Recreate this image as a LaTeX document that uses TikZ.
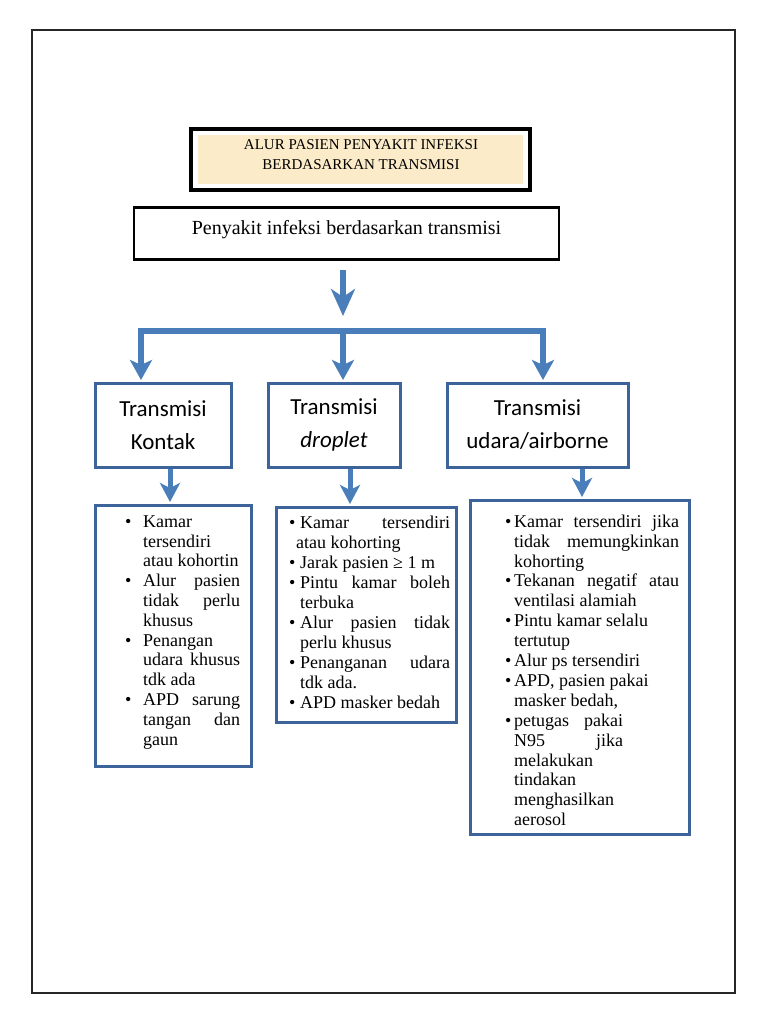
\documentclass[tikz,border=0pt]{standalone}
\usepackage{fontspec}
\setmainfont{Liberation Serif}
\newfontfamily\carl{Carlito}
\usetikzlibrary{arrows.meta}
\definecolor{arrblue}{RGB}{74,126,187}
\definecolor{boxblue}{RGB}{60,100,155}
\definecolor{beige}{RGB}{252,235,200}
\newcommand{\bul}[1]{\makebox[#1][l]{\textbullet}}
\newcommand{\J}[2]{\makebox[#1][s]{#2}}
\newcommand{\ind}[1]{\hspace*{#1}}
\begin{document}
\begin{tikzpicture}[x=1pt,y=-1pt,
  tbox/.style={draw=boxblue,line width=3pt,inner sep=0pt},
  lvl/.style={tbox,font=\carl\fontsize{23}{33}\selectfont,align=center},
  detail/.style={anchor=north west,inner sep=0pt,align=left,font=\fontsize{18}{19.8}\selectfont},
  arr/.style={draw=arrblue,line width=5.5pt,-{Stealth[length=20pt,width=22pt,inset=5pt]}},
  arrs/.style={draw=arrblue,line width=5pt,-{Stealth[length=19pt,width=20pt,inset=5pt]}},
]
\useasboundingbox (0,0) rectangle (768,1024);
\fill[white] (0,0) rectangle (768,1024);
\draw[line width=1.8pt,black!85] (32,30) rectangle (735,993);
% title
\fill[beige] (198,135) rectangle (523,184);
\node[draw,line width=4pt,minimum width=339pt,minimum height=61pt,inner sep=0pt] (title) at (360.5,159.5) {};
\node[align=center,font=\fontsize{15}{20}\selectfont,inner sep=0pt] (titletxt) at (361,155) {ALUR PASIEN PENYAKIT INFEKSI\\BERDASARKAN TRANSMISI};
% source box
\node[draw,line width=2.5pt,minimum width=425pt,minimum height=52pt,inner sep=0pt,
      text height=10pt,text depth=7pt,font=\fontsize{20}{24}\selectfont] (src) at (346.5,233.5) {Penyakit infeksi berdasarkan transmisi};
% arrow down
\coordinate (a0) at (343,270);
\coordinate (a1) at (343,316);
\draw[arr,line width=6pt,-{Stealth[length=27pt,width=24pt,inset=8pt]}] (a0) -- (a1);
% level 2 boxes
\node[lvl,minimum width=136pt,minimum height=84pt] (k) at (163,425) {Transmisi\\Kontak};
\node[lvl,minimum width=132pt,minimum height=84pt] (d) at (334,425) {Transmisi\\\textit{droplet}};
\node[lvl,minimum width=181pt,minimum height=84pt] (u) at (537.5,425) {Transmisi\\udara/airborne};
% bar
\coordinate (bl) at (141,331);
\coordinate (bm) at (343,331);
\coordinate (br) at (543,331);
\coordinate (blk) at (bl |- k.north);
\coordinate (bmd) at (bm |- d.north);
\coordinate (bru) at (br |- u.north);
\draw[arr,line join=miter,{Stealth[length=20pt,width=22pt,inset=5pt]}-{Stealth[length=20pt,width=22pt,inset=5pt]}]
  ([yshift=1.5pt]blk) -- (bl) -- (br) -- ([yshift=1.5pt]bru);
\draw[arr] (bm) -- ([yshift=1.5pt]bmd);
% detail boxes
\node[tbox,minimum width=156pt,minimum height=261pt] (b1) at (173,635.5) {};
\node[tbox,minimum width=180pt,minimum height=215pt] (b2) at (366,614.5) {};
\node[tbox,minimum width=219pt,minimum height=334pt] (b3) at (579.5,667) {};
% lower arrows
\coordinate (k1) at ([xshift=7pt]k.south);
\coordinate (d1) at ([xshift=16pt]d.south);
\coordinate (u1) at ([xshift=44.5pt]u.south);
\coordinate (k2) at (k1 |- b1.north);
\coordinate (d2) at (d1 |- b2.north);
\coordinate (u2) at (u1 |- b3.north);
\draw[arrs] (k1) -- ([yshift=1.5pt]k2);
\draw[arrs] (d1) -- ([yshift=1.5pt]d2);
\draw[arrs] (u1) -- ([yshift=1.5pt]u2);
% detail texts
\node[detail] (b1t) at (125,514) {\rule{0pt}{13pt}\bul{18pt}Kamar\\
\ind{18pt}tersendiri\\
\ind{18pt}atau kohortin\\
\bul{18pt}\J{97pt}{Alur pasien}\\
\ind{18pt}\J{97pt}{tidak perlu}\\
\ind{18pt}khusus\\
\bul{18pt}Penangan\\
\ind{18pt}\J{97pt}{udara khusus}\\
\ind{18pt}tdk ada\\
\bul{18pt}\J{97pt}{APD sarung}\\
\ind{18pt}\J{97pt}{tangan dan}\\
\ind{18pt}gaun};
\node[detail,font=\fontsize{18}{20}\selectfont] (b2t) at (289,515) {\rule{0pt}{13pt}\bul{11pt}\J{150pt}{Kamar tersendiri}\\
\ind{7pt}atau kohorting\\
\bul{11pt}Jarak pasien ≥ 1 m\\
\bul{11pt}\J{150pt}{Pintu kamar boleh}\\
\ind{11pt}terbuka\\
\bul{11pt}\J{150pt}{Alur pasien tidak}\\
\ind{11pt}perlu khusus\\
\bul{11pt}\J{150pt}{Penanganan udara}\\
\ind{11pt}tdk ada.\\
\bul{11pt}APD masker bedah};
\node[detail,font=\fontsize{18}{19.9}\selectfont] (b3t) at (505,514) {\rule{0pt}{13pt}\bul{9pt}\J{165pt}{Kamar tersendiri jika}\\
\ind{9pt}\J{165pt}{tidak memungkinkan}\\
\ind{9pt}kohorting\\
\bul{9pt}\J{165pt}{Tekanan negatif atau}\\
\ind{9pt}ventilasi alamiah\\
\bul{9pt}Pintu kamar selalu\\
\ind{9pt}tertutup\\
\bul{9pt}Alur ps tersendiri\\
\bul{9pt}APD, pasien pakai\\
\ind{9pt}masker bedah,\\
\bul{9pt}\J{109pt}{petugas pakai}\\
\ind{9pt}\J{109pt}{N95 jika}\\
\ind{9pt}melakukan\\
\ind{9pt}tindakan\\
\ind{9pt}menghasilkan\\
\ind{9pt}aerosol};
\end{tikzpicture}
\end{document}
